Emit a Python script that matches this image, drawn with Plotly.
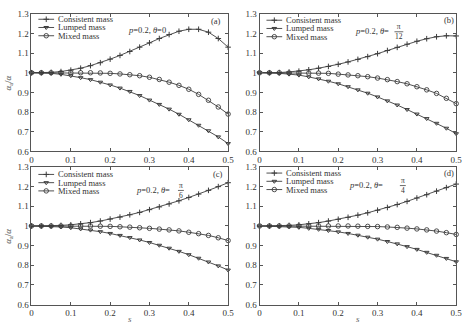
import plotly.graph_objects as go

# abscissa s (21 sample points)
s = [0, 0.025, 0.05, 0.075, 0.1, 0.125, 0.15, 0.175, 0.2, 0.225, 0.25,
     0.275, 0.3, 0.325, 0.35, 0.375, 0.4, 0.425, 0.45, 0.475, 0.5]

# (a) p=0.2, theta=0
cons_a = [1, 1.0, 1.002, 1.006, 1.013, 1.023, 1.036, 1.051, 1.069, 1.088, 1.108,
          1.130, 1.152, 1.174, 1.194, 1.211, 1.221, 1.221, 1.206, 1.174, 1.130]
lump_a = [1, 0.999, 0.997, 0.992, 0.985, 0.975, 0.965, 0.952, 0.938, 0.922, 0.905,
          0.884, 0.861, 0.839, 0.815, 0.789, 0.761, 0.733, 0.705, 0.674, 0.640]
mix_a = [1, 1, 1, 1, 1, 1.0, 1.0, 0.999, 0.997, 0.994, 0.990,
         0.985, 0.977, 0.966, 0.952, 0.936, 0.916, 0.890, 0.860, 0.826, 0.790]

# (b) p=0.2, theta=pi/12
cons_b = [1, 1.0, 1.001, 1.004, 1.008, 1.015, 1.023, 1.032, 1.043, 1.055, 1.068,
          1.082, 1.097, 1.113, 1.129, 1.145, 1.160, 1.173, 1.183, 1.188, 1.187]
lump_b = [1, 0.999, 0.997, 0.993, 0.988, 0.979, 0.969, 0.957, 0.944, 0.929, 0.913,
          0.896, 0.877, 0.857, 0.836, 0.813, 0.790, 0.767, 0.743, 0.718, 0.690]
mix_b = [1, 1, 1, 0.999, 0.999, 0.998, 0.998, 0.997, 0.993, 0.989, 0.985,
         0.980, 0.973, 0.965, 0.955, 0.944, 0.929, 0.913, 0.895, 0.870, 0.843]

# (c) p=0.2, theta=pi/6
cons_c = [1, 1.0, 1.001, 1.003, 1.006, 1.011, 1.017, 1.025, 1.035, 1.045, 1.057,
          1.069, 1.083, 1.097, 1.112, 1.128, 1.145, 1.162, 1.181, 1.200, 1.220]
lump_c = [1, 0.999, 0.998, 0.995, 0.991, 0.985, 0.979, 0.971, 0.962, 0.952, 0.941,
          0.929, 0.916, 0.902, 0.887, 0.871, 0.854, 0.836, 0.817, 0.797, 0.776]
mix_c = [1, 1, 1, 1, 1, 1.0, 1.0, 0.999, 0.998, 0.996, 0.994,
         0.991, 0.988, 0.984, 0.980, 0.975, 0.968, 0.961, 0.952, 0.940, 0.926]

# (d) p=0.2, theta=pi/4
cons_d = [1, 1.0, 1.001, 1.003, 1.006, 1.011, 1.017, 1.025, 1.034, 1.044, 1.055,
          1.067, 1.080, 1.094, 1.109, 1.125, 1.142, 1.159, 1.177, 1.195, 1.213]
lump_d = [1, 0.999, 0.998, 0.996, 0.993, 0.988, 0.983, 0.977, 0.970, 0.962, 0.953,
          0.943, 0.933, 0.921, 0.909, 0.895, 0.881, 0.866, 0.851, 0.835, 0.818]
mix_d = [1, 1, 1, 1, 1, 1.0, 1.0, 1.0, 1.0, 1.0, 0.999,
         0.998, 0.997, 0.995, 0.993, 0.989, 0.985, 0.980, 0.974, 0.966, 0.957]

series_names = ["Consistent mass", "Lumped mass", "Mixed mass"]
panel_tags = ["(a)", "(b)", "(c)", "(d)"]
theta_num = ["0", "π", "π", "π"]
theta_den = [None, "12", "6", "4"]
y_ticks = [0.6, 0.7, 0.8, 0.9, 1.0, 1.1, 1.2, 1.3]
y_tick_text = ["0.6", "0.7", "0.8", "0.9", "1", "1.1", "1.2", "1.3"]
x_ticks = [0, 0.1, 0.2, 0.3, 0.4, 0.5]
x_tick_text = ["0", "0.1", "0.2", "0.3", "0.4", "0.5"]

panels = [(cons_a, lump_a, mix_a), (cons_b, lump_b, mix_b),
          (cons_c, lump_c, mix_c), (cons_d, lump_d, mix_d)]

W, H = 474, 331
SERIF = "Liberation Serif, Times New Roman, serif"
INK = "#3c3c3c"
AX = "#555555"
TXT = "#333333"

# panel boxes in pixels: (left, top, right, bottom)
boxes = [(30, 9, 230, 151), (262, 9, 462, 151),
         (30, 167, 230, 309), (262, 167, 462, 309)]

styles = [
    dict(symbol="cross-thin", size=4, line=dict(width=1, color=INK)),
    dict(symbol="triangle-down-open", size=4, line=dict(width=1, color=INK)),
    dict(symbol="circle-open", size=4.5, line=dict(width=0.9, color=INK)),
]

fig = go.Figure()
layout = dict(
    width=W, height=H,
    margin=dict(l=0, r=0, t=0, b=0),
    paper_bgcolor="white", plot_bgcolor="white",
    showlegend=False,
    font=dict(family=SERIF, size=9, color=TXT),
)
annotations = []
shapes = []

# per-panel layout offsets (pixels inside the panel)
legend_top = [5.7, 6.7, 7.7, 6.3]
tag_pos = [(188, 7.7), (193, 6.2), (190, 7.2), (193, 6.3)]
param_pos = [(97, 16.5), (133, 17.8), (142, 24.2), (127, 19.0)]
frac_pos = [None, (141.7, 18.6, 9), (152, 24.2, 6), (145.7, 19.2, 6)]


def note(x, y, xref, yref, text, size=8.5, xanchor="left", **kw):
    return dict(x=x, y=y, xref=xref, yref=yref, text=text, showarrow=False,
                xanchor=xanchor, yanchor="middle", borderpad=0,
                font=dict(family=SERIF, size=size, color=kw.pop("color", TXT)), **kw)


for i, (box, data) in enumerate(zip(boxes, panels)):
    k = i + 1
    l, t, r, b = box
    xd = [l / W, r / W]
    yd = [1 - b / H, 1 - t / H]
    xa = "x" if k == 1 else f"x{k}"
    ya = "y" if k == 1 else f"y{k}"
    ov = k + 4

    for name, ys, st in zip(series_names, data, styles):
        fig.add_trace(go.Scatter(
            x=s, y=ys, mode="lines+markers", name=name,
            line=dict(color=INK, width=0.9), marker=dict(color=INK, **st),
            xaxis=xa, yaxis=ya, cliponaxis=False))

    common = dict(showline=True, linecolor=AX, linewidth=1, mirror="ticks",
                  ticks="inside", ticklen=3, tickcolor=AX, tickwidth=1,
                  showgrid=False, zeroline=False, fixedrange=True,
                  tickfont=dict(family=SERIF, size=9, color=TXT))
    layout["xaxis" if k == 1 else f"xaxis{k}"] = dict(
        domain=xd, anchor=ya, range=[0, 0.5], tickvals=x_ticks,
        ticktext=x_tick_text, **common)
    layout["yaxis" if k == 1 else f"yaxis{k}"] = dict(
        domain=yd, anchor=xa, range=[0.6, 1.3], tickvals=y_ticks,
        ticktext=y_tick_text, **common)

    # pixel-space overlay used for the in-panel legend and labels
    layout[f"xaxis{ov}"] = dict(overlaying=xa, anchor=f"y{ov}", range=[0, r - l],
                                visible=False, fixedrange=True)
    layout[f"yaxis{ov}"] = dict(overlaying=ya, anchor=f"x{ov}", range=[b - t, 0],
                                visible=False, fixedrange=True)
    oxr, oyr = f"x{ov}", f"y{ov}"

    for j, (name, st) in enumerate(zip(series_names, styles)):
        yy = legend_top[i] + 8.5 * j
        # legend key: short line segment with a single marker in the middle
        fig.add_trace(go.Scatter(
            x=[7, 23], y=[yy, yy], mode="lines",
            line=dict(color=INK, width=0.9),
            xaxis=oxr, yaxis=oyr, hoverinfo="skip", cliponaxis=False))
        fig.add_trace(go.Scatter(
            x=[15], y=[yy], mode="markers",
            marker=dict(color=INK, **st),
            xaxis=oxr, yaxis=oyr, hoverinfo="skip", cliponaxis=False))
        annotations.append(note(26, yy, oxr, oyr, name))

    tx, ty = tag_pos[i]
    annotations.append(note(tx, ty, oxr, oyr, panel_tags[i], xanchor="center"))

    px_, py_ = param_pos[i]
    if theta_den[i] is None:
        annotations.append(note(px_, py_, oxr, oyr,
                                "<i>p</i>=0.2, <i>θ</i>=" + theta_num[i]))
    else:
        annotations.append(note(px_, py_, oxr, oyr, "<i>p</i>=0.2, <i>θ</i>=",
                                xanchor="right"))
        fx, fy, fw = frac_pos[i]
        annotations.append(note(fx, fy, oxr, oyr,
                                theta_num[i] + "<br>" + theta_den[i],
                                size=7.5, xanchor="center"))
        shapes.append(dict(type="line", xref=oxr, yref=oyr,
                           x0=fx - fw / 2, x1=fx + fw / 2, y0=fy, y1=fy,
                           line=dict(color="#444444", width=0.8)))

    # y-axis title
    annotations.append(note(7 / W, 1 - ((t + b) / 2) / H, "paper", "paper",
                            "<i>α</i><sub>a</sub>/<i>α</i>", size=9,
                            xanchor="center", textangle=-90, color="#8a8a8a"))
    # x-axis title on the bottom row
    if k >= 3:
        annotations.append(note(((l + r) / 2) / W, 1 - 324 / H, "paper", "paper",
                                "<i>s</i>", size=9, xanchor="center",
                                color="#666666"))

layout["annotations"] = annotations
layout["shapes"] = shapes
fig.update_layout(**layout)
fig.write_html("out.html")
